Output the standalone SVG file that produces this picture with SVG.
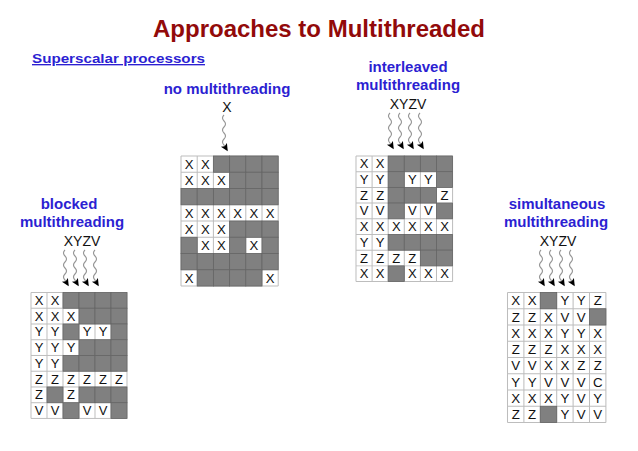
<svg xmlns="http://www.w3.org/2000/svg" xmlns:xlink="http://www.w3.org/1999/xlink" width="638" height="451" viewBox="0 0 638 451">
<style>
.title{font-family:"Liberation Sans",Arial,sans-serif;font-weight:bold;font-size:24px;fill:#920a0a;text-anchor:middle}
.sub{font-family:"Liberation Sans",Arial,sans-serif;font-weight:bold;font-size:13.5px;fill:#2c1fd2;text-decoration:underline}
.lbl{font-family:"Liberation Sans",Arial,sans-serif;font-weight:bold;font-size:15px;fill:#2c1fd2;text-anchor:middle}
.th{font-family:"Liberation Sans",Arial,sans-serif;font-size:14px;fill:#111;text-anchor:middle}
.c{font-family:"Liberation Sans",Arial,sans-serif;font-size:13px;fill:#111;text-anchor:middle}
.bg{fill:#fff}
.gl{fill:none;stroke:#bdbdbd;stroke-width:1}
.g{fill:#808080;stroke:#666;stroke-width:0.8}
.w{fill:none;stroke:#959595;stroke-width:1.1}
</style>
<defs>
<marker id="ah" markerUnits="userSpaceOnUse" markerWidth="10" markerHeight="10" refX="0" refY="0" orient="auto" overflow="visible">
<path d="M1.5,0 L-6,-3.5 L-4.5,0 L-6,3.5 Z" fill="#000"/>
</marker>
<path id="wave" class="w" d="M0,0 q-3,3 0,6 t0,6 t0,6 t0,6 t0,6 l3,5" marker-end="url(#ah)"/>
<path id="grid" class="gl" d="M0,0V128M16,0V128M32,0V128M48,0V128M64,0V128M80,0V128M96,0V128M0,0H96M0,16H96M0,32H96M0,48H96M0,64H96M0,80H96M0,96H96M0,112H96M0,128H96"/>
<rect id="gc" class="g" width="16" height="16"/>
</defs>

<text class="title" x="319" y="37">Approaches to Multithreaded</text>
<text class="sub" x="32" y="63" textLength="173" lengthAdjust="spacingAndGlyphs">Superscalar processors</text>

<g id="label-nomt">
<text class="lbl" x="227" y="94">no multithreading</text>
<text class="th" x="227" y="111.5">X</text>
</g>
<g id="label-interleaved">
<text class="lbl" x="408" y="72">interleaved</text>
<text class="lbl" x="408" y="90">multithreading</text>
<text class="th" x="408" y="109">XYZV</text>
</g>
<g id="label-blocked">
<text class="lbl" x="69" y="209">blocked</text>
<text class="lbl" x="72" y="227">multithreading</text>
<text class="th" x="82" y="246">XYZV</text>
</g>
<g id="label-simultaneous">
<text class="lbl" x="557" y="209">simultaneous</text>
<text class="lbl" x="556" y="227">multithreading</text>
<text class="th" x="558" y="246">XYZV</text>
</g>

<g id="connectors">
<use xlink:href="#wave" href="#wave" transform="translate(224,115)"/>
<use xlink:href="#wave" href="#wave" transform="translate(390,113)"/>
<use xlink:href="#wave" href="#wave" transform="translate(400,113)"/>
<use xlink:href="#wave" href="#wave" transform="translate(410,113)"/>
<use xlink:href="#wave" href="#wave" transform="translate(420,113)"/>
<use xlink:href="#wave" href="#wave" transform="translate(65,250)"/>
<use xlink:href="#wave" href="#wave" transform="translate(75,250)"/>
<use xlink:href="#wave" href="#wave" transform="translate(85,250)"/>
<use xlink:href="#wave" href="#wave" transform="translate(95,250)"/>
<use xlink:href="#wave" href="#wave" transform="translate(541,250)"/>
<use xlink:href="#wave" href="#wave" transform="translate(551,250)"/>
<use xlink:href="#wave" href="#wave" transform="translate(561,250)"/>
<use xlink:href="#wave" href="#wave" transform="translate(571,250)"/>
</g>

<g id="grid-nomt" transform="translate(181,156) scale(1.0125,1.016)">
<rect class="bg" width="96" height="128"/>
<use href="#grid" xlink:href="#grid"/>
<use href="#gc" xlink:href="#gc" x="32" y="0"/><use href="#gc" xlink:href="#gc" x="48" y="0"/><use href="#gc" xlink:href="#gc" x="64" y="0"/><use href="#gc" xlink:href="#gc" x="80" y="0"/>
<use href="#gc" xlink:href="#gc" x="48" y="16"/><use href="#gc" xlink:href="#gc" x="64" y="16"/><use href="#gc" xlink:href="#gc" x="80" y="16"/>
<use href="#gc" xlink:href="#gc" x="0" y="32"/><use href="#gc" xlink:href="#gc" x="16" y="32"/><use href="#gc" xlink:href="#gc" x="32" y="32"/><use href="#gc" xlink:href="#gc" x="48" y="32"/><use href="#gc" xlink:href="#gc" x="64" y="32"/><use href="#gc" xlink:href="#gc" x="80" y="32"/>
<use href="#gc" xlink:href="#gc" x="48" y="64"/><use href="#gc" xlink:href="#gc" x="64" y="64"/><use href="#gc" xlink:href="#gc" x="80" y="64"/>
<use href="#gc" xlink:href="#gc" x="0" y="80"/><use href="#gc" xlink:href="#gc" x="48" y="80"/><use href="#gc" xlink:href="#gc" x="80" y="80"/>
<use href="#gc" xlink:href="#gc" x="0" y="96"/><use href="#gc" xlink:href="#gc" x="16" y="96"/><use href="#gc" xlink:href="#gc" x="32" y="96"/><use href="#gc" xlink:href="#gc" x="48" y="96"/><use href="#gc" xlink:href="#gc" x="64" y="96"/><use href="#gc" xlink:href="#gc" x="80" y="96"/>
<use href="#gc" xlink:href="#gc" x="16" y="112"/><use href="#gc" xlink:href="#gc" x="32" y="112"/><use href="#gc" xlink:href="#gc" x="48" y="112"/><use href="#gc" xlink:href="#gc" x="64" y="112"/>
<text class="c" x="8 24" y="12.6">XX</text>
<text class="c" x="8 24 40" y="28.6">XXX</text>
<text class="c" x="8 24 40 56 72 88" y="60.6">XXXXXX</text>
<text class="c" x="8 24 40" y="76.6">XXX</text>
<text class="c" x="24 40 72" y="92.6">XXX</text>
<text class="c" x="8 88" y="124.6">XX</text>
</g>

<g id="grid-interleaved" transform="translate(356,156) scale(1.006,0.981)">
<rect class="bg" width="96" height="128"/>
<use href="#grid" xlink:href="#grid"/>
<use href="#gc" xlink:href="#gc" x="32" y="0"/><use href="#gc" xlink:href="#gc" x="48" y="0"/><use href="#gc" xlink:href="#gc" x="64" y="0"/><use href="#gc" xlink:href="#gc" x="80" y="0"/>
<use href="#gc" xlink:href="#gc" x="32" y="16"/><use href="#gc" xlink:href="#gc" x="80" y="16"/>
<use href="#gc" xlink:href="#gc" x="32" y="32"/><use href="#gc" xlink:href="#gc" x="48" y="32"/><use href="#gc" xlink:href="#gc" x="64" y="32"/>
<use href="#gc" xlink:href="#gc" x="32" y="48"/><use href="#gc" xlink:href="#gc" x="80" y="48"/>
<use href="#gc" xlink:href="#gc" x="32" y="80"/><use href="#gc" xlink:href="#gc" x="48" y="80"/><use href="#gc" xlink:href="#gc" x="64" y="80"/><use href="#gc" xlink:href="#gc" x="80" y="80"/>
<use href="#gc" xlink:href="#gc" x="64" y="96"/><use href="#gc" xlink:href="#gc" x="80" y="96"/>
<use href="#gc" xlink:href="#gc" x="32" y="112"/>
<text class="c" x="8 24" y="12.6">XX</text>
<text class="c" x="8 24 56 72" y="28.6">YYYY</text>
<text class="c" x="8 24 88" y="44.6">ZZZ</text>
<text class="c" x="8 24 56 72" y="60.6">VVVV</text>
<text class="c" x="8 24 40 56 72 88" y="76.6">XXXXXX</text>
<text class="c" x="8 24" y="92.6">YY</text>
<text class="c" x="8 24 40 56" y="108.6">ZZZZ</text>
<text class="c" x="8 24 56 72 88" y="124.6">XXXXX</text>
</g>

<g id="grid-blocked" transform="translate(31,292.5) scale(1,0.984)">
<rect class="bg" width="96" height="128"/>
<use href="#grid" xlink:href="#grid"/>
<use href="#gc" xlink:href="#gc" x="32" y="0"/><use href="#gc" xlink:href="#gc" x="48" y="0"/><use href="#gc" xlink:href="#gc" x="64" y="0"/><use href="#gc" xlink:href="#gc" x="80" y="0"/>
<use href="#gc" xlink:href="#gc" x="48" y="16"/><use href="#gc" xlink:href="#gc" x="64" y="16"/><use href="#gc" xlink:href="#gc" x="80" y="16"/>
<use href="#gc" xlink:href="#gc" x="32" y="32"/><use href="#gc" xlink:href="#gc" x="80" y="32"/>
<use href="#gc" xlink:href="#gc" x="48" y="48"/><use href="#gc" xlink:href="#gc" x="64" y="48"/><use href="#gc" xlink:href="#gc" x="80" y="48"/>
<use href="#gc" xlink:href="#gc" x="32" y="64"/><use href="#gc" xlink:href="#gc" x="48" y="64"/><use href="#gc" xlink:href="#gc" x="64" y="64"/><use href="#gc" xlink:href="#gc" x="80" y="64"/>
<use href="#gc" xlink:href="#gc" x="16" y="96"/><use href="#gc" xlink:href="#gc" x="48" y="96"/><use href="#gc" xlink:href="#gc" x="64" y="96"/><use href="#gc" xlink:href="#gc" x="80" y="96"/>
<use href="#gc" xlink:href="#gc" x="32" y="112"/><use href="#gc" xlink:href="#gc" x="80" y="112"/>
<text class="c" x="8 24" y="12.6">XX</text>
<text class="c" x="8 24 40" y="28.6">XXX</text>
<text class="c" x="8 24 56 72" y="44.6">YYYY</text>
<text class="c" x="8 24 40" y="60.6">YYY</text>
<text class="c" x="8 24" y="76.6">YY</text>
<text class="c" x="8 24 40 56 72 88" y="92.6">ZZZZZZ</text>
<text class="c" x="8 40" y="108.6">ZZ</text>
<text class="c" x="8 24 56 72" y="124.6">VVVV</text>
</g>

<g id="grid-simultaneous" transform="translate(507.5,292.5) scale(1.025,1.016)">
<rect class="bg" width="96" height="128"/>
<use href="#grid" xlink:href="#grid"/>
<use href="#gc" xlink:href="#gc" x="32" y="0"/>
<use href="#gc" xlink:href="#gc" x="80" y="16"/>
<use href="#gc" xlink:href="#gc" x="32" y="112"/>
<text class="c" x="8 24 56 72 88" y="12.6">XXYYZ</text>
<text class="c" x="8 24 40 56 72" y="28.6">ZZXVV</text>
<text class="c" x="8 24 40 56 72 88" y="44.6">XXXYYX</text>
<text class="c" x="8 24 40 56 72 88" y="60.6">ZZZXXX</text>
<text class="c" x="8 24 40 56 72 88" y="76.6">VVXXZZ</text>
<text class="c" x="8 24 40 56 72 88" y="92.6">YYVVVC</text>
<text class="c" x="8 24 40 56 72 88" y="108.6">XXXYVY</text>
<text class="c" x="8 24 56 72 88" y="124.6">ZZYVV</text>
</g>
</svg>
